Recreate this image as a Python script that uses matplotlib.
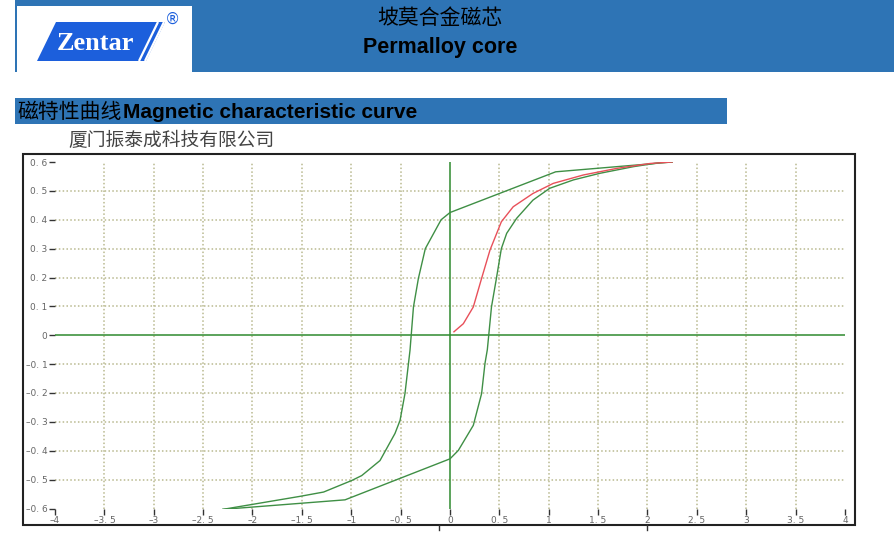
import matplotlib
matplotlib.use('Agg')
import matplotlib.pyplot as plt
from matplotlib.patches import Rectangle, Polygon

# ---------------- data ----------------
# descending branch of the hysteresis loop (from +saturation to -saturation)
desc_h = [2.25, 1.07, 0.0, -0.09, -0.25, -0.32, -0.37, -0.405, -0.456, -0.506,
          -0.557, -0.709, -0.894, -0.995, -1.28, -1.52, -2.3]
desc_b = [0.600, 0.566, 0.425, 0.400, 0.300, 0.197, 0.098, -0.052, -0.202, -0.295,
          -0.340, -0.434, -0.486, -0.503, -0.543, -0.558, -0.603]
# ascending branch (from -saturation to +saturation)
asc_h = [-2.3, -1.063, 0.0, 0.084, 0.236, 0.32, 0.354, 0.378, 0.42, 0.47, 0.52,
         0.574, 0.675, 0.84, 1.01, 1.25, 1.52, 1.86, 2.13, 2.25]
asc_b = [-0.603, -0.570, -0.428, -0.399, -0.312, -0.202, -0.098, -0.050, 0.098, 0.197,
         0.300, 0.353, 0.405, 0.468, 0.509, 0.538, 0.561, 0.584, 0.598, 0.600]
# initial magnetization curve
init_h = [0.04, 0.135, 0.236, 0.32, 0.405, 0.52, 0.64, 0.84, 1.046, 1.35, 1.69, 2.03, 2.25]
init_b = [0.012, 0.040, 0.098, 0.197, 0.295, 0.393, 0.445, 0.491, 0.526, 0.555, 0.578, 0.595, 0.600]

xtick_vals = [-4, -3.5, -3, -2.5, -2, -1.5, -1, -0.5, 0, 0.5, 1, 1.5, 2, 2.5, 3, 3.5, 4]
xtick_labels = ['\u20134', '\u20133. 5', '\u20133', '\u20132. 5', '\u20132', '\u20131. 5', '\u20131',
                '\u20130. 5', '0', '0. 5', '1', '1. 5', '2', '2. 5', '3', '3. 5', '4']
ytick_vals = [-0.6, -0.5, -0.4, -0.3, -0.2, -0.1, 0, 0.1, 0.2, 0.3, 0.4, 0.5, 0.6]
ytick_labels = ['\u20130. 6', '\u20130. 5', '\u20130. 4', '\u20130. 3', '\u20130. 2', '\u20130. 1', '0',
                '0. 1', '0. 2', '0. 3', '0. 4', '0. 5', '0. 6']
xgrid_vals = [-3.5, -3, -2.5, -2, -1.5, -1, -0.5, 0.5, 1, 1.5, 2, 2.5, 3, 3.5]
ygrid_vals = [-0.5, -0.4, -0.3, -0.2, -0.1, 0.1, 0.2, 0.3, 0.4, 0.5]

title_cn = '坡莫合金磁芯'
title_en = 'Permalloy core'
section_cn = '磁特性曲线'
section_en = 'Magnetic characteristic curve'
company = '厦门振泰成科技有限公司'

# ---------------- figure ----------------
W, H = 895, 543
fig = plt.figure(figsize=(W / 100, H / 100), dpi=100)
fig.patch.set_facecolor('white')

bg = fig.add_axes([0, 0, 1, 1])
bg.set_xlim(0, W)
bg.set_ylim(H, 0)
bg.axis('off')

BLUE = '#2e74b5'
CJK = ['Noto Sans CJK SC', 'DejaVu Sans']

# header band
bg.add_patch(Rectangle((15, 0), 880, 72, color=BLUE, lw=0))
bg.add_patch(Rectangle((17, 6), 175, 66, color='white', lw=0))
# logo
logo_blue = '#1c5fdc'
bg.add_patch(Polygon([(37, 61), (56, 22), (165, 22), (146, 61)], closed=True,
                     color=logo_blue, lw=0))
for off in (0, 6):
    bg.plot([139 + off, 158 + off], [61, 22], color='white', lw=1.6, solid_capstyle='butt')
bg.text(96, 43, 'Zentar', color='white', fontsize=19, fontweight='bold',
        family='Liberation Serif', ha='center', va='center')
bg.text(173, 19, '®', color=logo_blue, fontsize=11, ha='center', va='center')

bg.text(440, 18, title_cn, fontsize=15, family=CJK, ha='center', va='center', color='black')
bg.text(440, 48, title_en, fontsize=15.5, family='Liberation Sans', fontweight='bold',
        ha='center', va='center', color='black')

# section band
bg.add_patch(Rectangle((15, 98), 712, 26, color=BLUE, lw=0))
bg.text(17, 112, section_cn, fontsize=15, family=CJK, ha='left', va='center', color='black')
bg.text(123, 112, section_en, fontsize=15, family='Liberation Sans', fontweight='bold',
        ha='left', va='center', color='black')

bg.text(68, 141, company, fontsize=13.5, family=CJK, ha='left', va='center', color='#444444')

# frame
bg.add_patch(Rectangle((23, 154), 832.5, 371, fill=False, ec='#222222', lw=1.5))
bg.plot([439, 439], [525, 530], color='#333333', lw=1)
bg.plot([647, 647], [525, 530], color='#333333', lw=1)

# ---------------- chart ----------------
ax = fig.add_axes([55 / W, 1 - 508.5 / H, 790 / W, 346.5 / H])
ax.patch.set_alpha(0)
ax.set_xlim(-4, 4)
ax.set_ylim(-0.6, 0.6)
for s in ax.spines.values():
    s.set_visible(False)

grid_c = '#b9b98f'
for v in xgrid_vals:
    ax.axvline(v, color=grid_c, lw=1.1, ls=(0, (1, 1.5)), zorder=1)
for v in ygrid_vals:
    ax.axhline(v, color=grid_c, lw=1.1, ls=(0, (1, 1.5)), zorder=1)
ax.axhline(0, color='#2f8a2f', lw=1.1, zorder=2)
ax.axvline(0, color='#2f8a2f', lw=1.1, zorder=2)

ax.plot(desc_h, desc_b, color='#3f8f45', lw=1.0, zorder=3)
ax.plot(asc_h, asc_b, color='#3f8f45', lw=1.0, zorder=3)
ax.plot(init_h, init_b, color='#e8505a', lw=1.0, zorder=3)

ax.set_xticks(xtick_vals)
ax.set_xticklabels(xtick_labels)
ax.set_yticks(ytick_vals)
ax.set_yticklabels(ytick_labels)
ax.tick_params(direction='out', length=4, width=1, color='#333333',
               labelsize=6.5, labelcolor='#666666', pad=1.5)
for lab in ax.get_xticklabels() + ax.get_yticklabels():
    lab.set_family('DejaVu Sans')

fig.savefig('out.png', dpi=100)
